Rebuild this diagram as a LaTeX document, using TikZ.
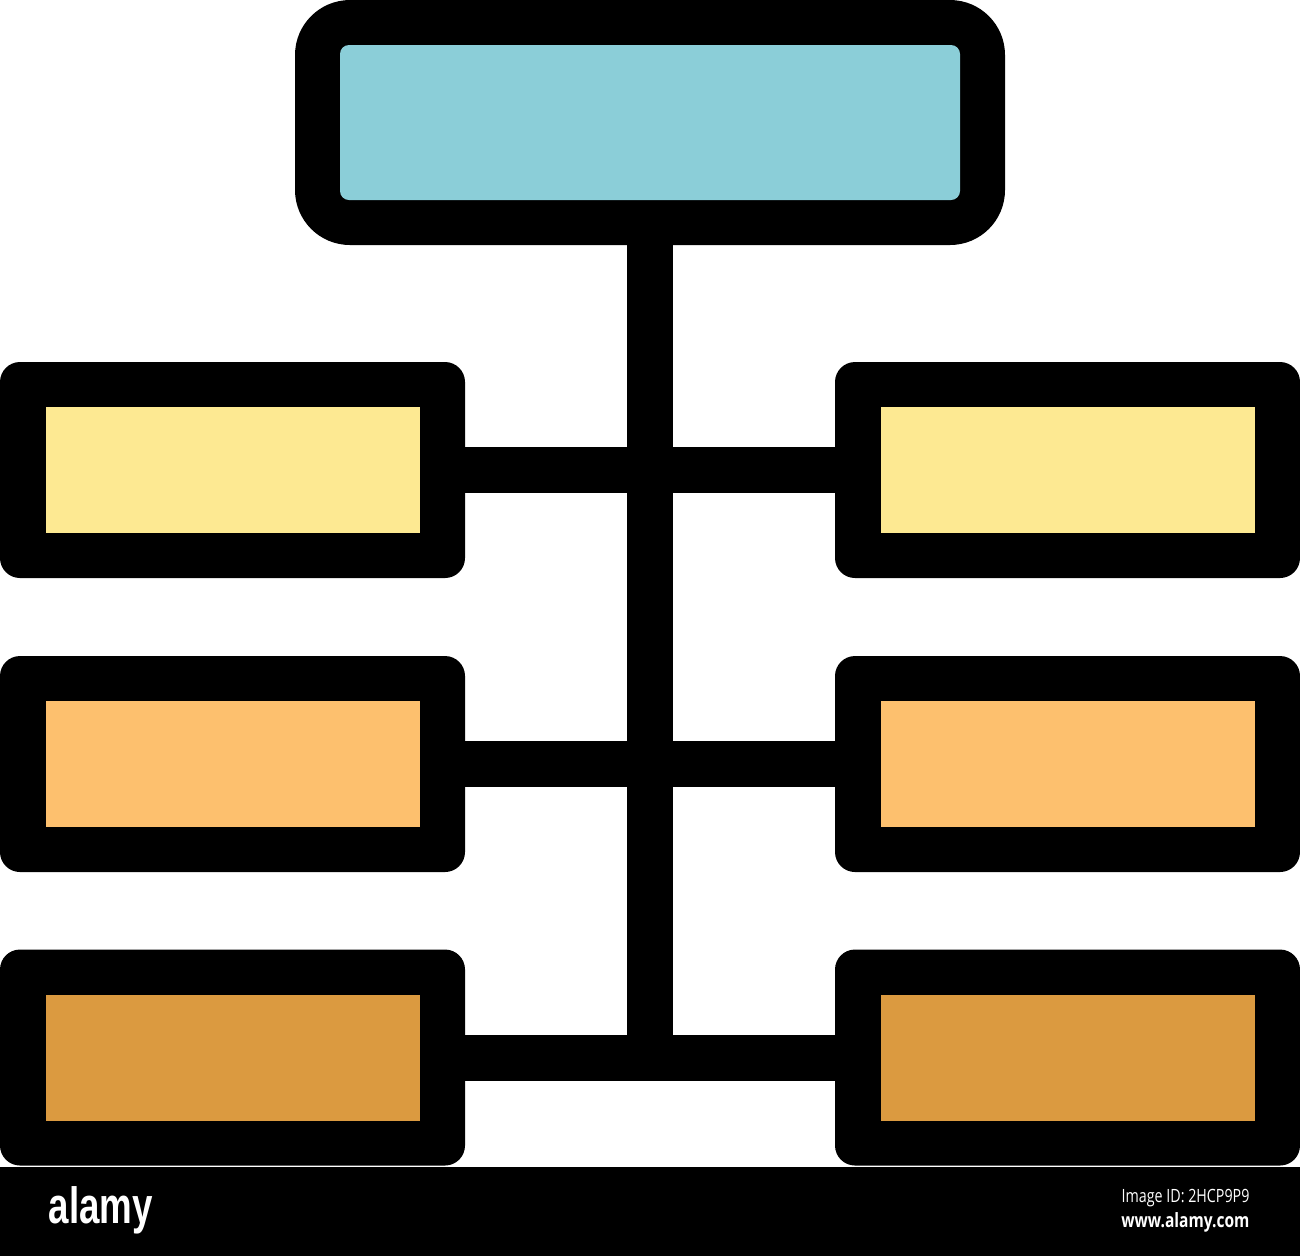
\documentclass[tikz,border=0pt]{standalone}
\usepackage{fontspec}
\setmainfont{Liberation Sans}
\newfontfamily\idfont{Open Sans}
\definecolor{cblue}{RGB}{139,206,216}
\definecolor{cyellow}{RGB}{253,233,146}
\definecolor{corange}{RGB}{253,192,110}
\definecolor{cdark}{RGB}{219,154,64}
\begin{document}
\begin{tikzpicture}[x=0.01cm,y=-0.01cm,
  outerbox/.style={fill=black,draw=none,rounded corners=20*0.01cm,minimum width=465*0.01cm,minimum height=216*0.01cm,inner sep=0pt,outer sep=0pt},
  innerbox/.style={draw=none,minimum width=374*0.01cm,minimum height=126*0.01cm,inner sep=0pt,outer sep=0pt},
  link/.style={line width=0.46cm,line cap=butt,black}]
\useasboundingbox (0,0) rectangle (1300,1256);
% top box
\node[fill=black,rounded corners=55*0.01cm,minimum width=710*0.01cm,minimum height=245*0.01cm,inner sep=0pt,outer sep=0pt] (top) at (650,122.5) {};
\node[fill=cblue,rounded corners=9*0.01cm,minimum width=620*0.01cm,minimum height=155*0.01cm,inner sep=0pt] (topin) at (650,122.5) {};
% left boxes
\node[outerbox] (L1) at (232.5,470) {};
\node[innerbox,fill=cyellow] (L1in) at (232.5,470) {};
\node[outerbox] (L2) at (232.5,764) {};
\node[innerbox,fill=corange] (L2in) at (232.5,764) {};
\node[outerbox] (L3) at (232.5,1057.5) {};
\node[innerbox,fill=cdark] (L3in) at (232.5,1057.5) {};
% right boxes
\node[outerbox] (R1) at (1067.5,470) {};
\node[innerbox,fill=cyellow] (R1in) at (1067.5,470) {};
\node[outerbox] (R2) at (1067.5,764) {};
\node[innerbox,fill=corange] (R2in) at (1067.5,764) {};
\node[outerbox] (R3) at (1067.5,1057.5) {};
\node[innerbox,fill=cdark] (R3in) at (1067.5,1057.5) {};
% connectors
\coordinate (stemend) at (650,1080.5);
\draw[link] (top.south) -- (stemend);
\draw[link] (L1.east) -- (R1.west);
\draw[link] (L2.east) -- (R2.west);
\draw[link] (L3.east) -- (R3.west);
% bottom bar
\fill[black] (0,1167) rectangle (1300,1256);
\node[text=white,font=\bfseries\fontsize{14.5pt}{15pt}\selectfont,xscale=0.72,inner sep=0pt] (logo) at (101,1210) {alamy};
\node[text=white,font=\idfont\fontsize{5.2pt}{6pt}\selectfont,xscale=0.78,anchor=east,inner sep=0pt] (imgid) at (1250,1198) {Image ID: 2HCP9P9};
\node[text=white,font=\idfont\bfseries\fontsize{5.6pt}{6pt}\selectfont,xscale=0.79,anchor=east,inner sep=0pt] (url) at (1250,1222) {www.alamy.com};
\end{tikzpicture}
\end{document}
